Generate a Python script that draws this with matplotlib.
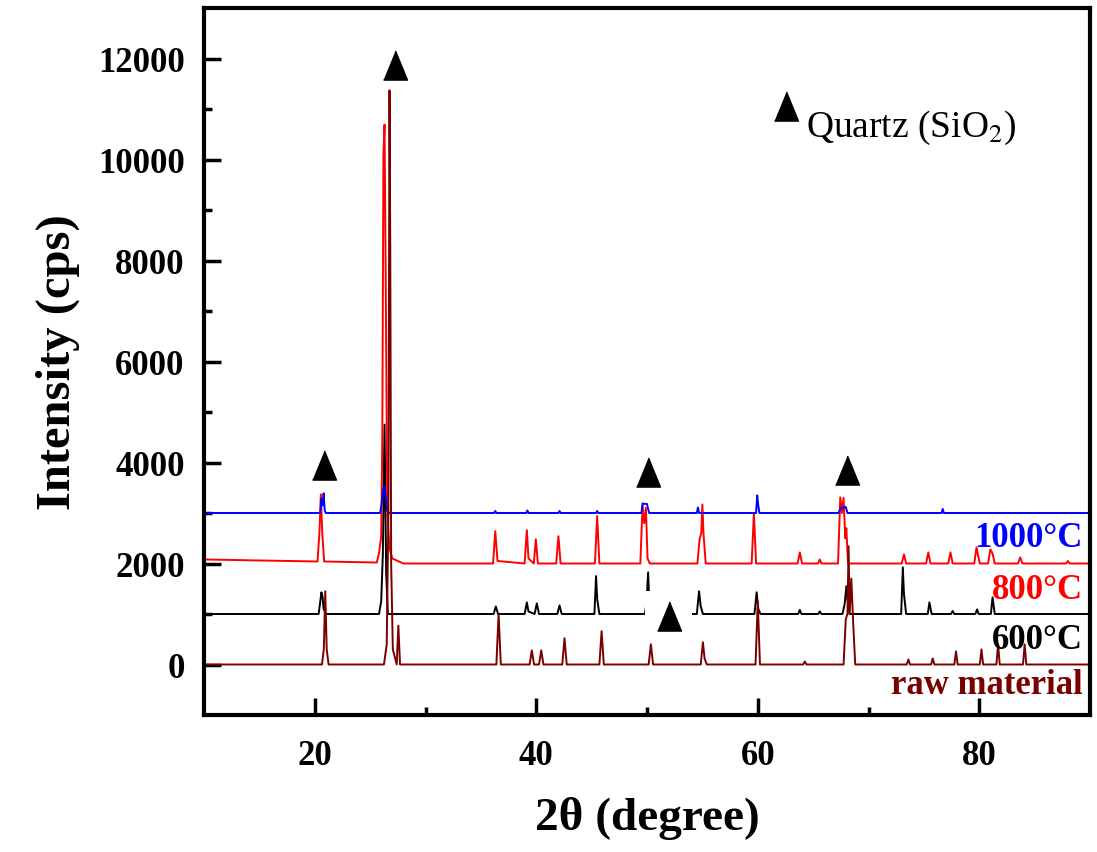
import matplotlib
matplotlib.use("Agg")
import matplotlib.pyplot as plt
from matplotlib.patches import Rectangle

plt.rcParams['font.family'] = ['Liberation Serif', 'DejaVu Serif']
plt.rcParams['mathtext.fontset'] = 'stix'

# ---- data: (2theta, intensity) vertices ----
raw_pts = [(10, 0), (20.65, 0), (20.82, 300), (20.95, 1450), (21.08, 300), (21.25, 0),
           (26.25, 0), (26.5, 400), (26.65, 3000), (26.75, 11370), (26.82, 8170), (26.9, 2000), (27.05, 300),
           (27.4, 0), (27.55, 770), (27.7, 0),
           (36.4, 0), (36.6, 1000), (36.8, 0),
           (39.4, 0), (39.6, 280), (39.8, 0), (40.25, 0), (40.45, 280), (40.65, 0),
           (42.35, 0), (42.55, 520), (42.75, 0),
           (45.7, 0), (45.9, 660), (46.1, 0),
           (50.15, 0), (50.35, 400), (50.55, 0),
           (54.85, 0), (55.05, 440), (55.2, 120), (55.4, 0),
           (59.8, 0), (60.0, 1250), (60.2, 0),
           (64.1, 0), (64.25, 60), (64.4, 0),
           (67.75, 0), (67.95, 900), (68.1, 1000), (68.2, 2340), (68.3, 1000), (68.45, 1700),
           (68.6, 900), (68.8, 0),
           (73.45, 0), (73.6, 100), (73.75, 0),
           (75.65, 0), (75.8, 120), (75.95, 0),
           (77.75, 0), (77.9, 260), (78.05, 0),
           (80.05, 0), (80.2, 300), (80.35, 0),
           (81.55, 0), (81.7, 400), (81.85, 0),
           (83.95, 0), (84.1, 400), (84.25, 0),
           (90, 0)]

c600_pts = [(10, 1000), (20.35, 1000), (20.5, 1250), (20.6, 1430), (20.7, 1350), (20.8, 1100), (21.0, 1000),
            (25.8, 1000), (26.0, 1250), (26.15, 2200), (26.3, 4750), (26.45, 1800), (26.6, 1000),
            (36.15, 1000), (36.35, 1150), (36.55, 1000),
            (38.95, 1000), (39.15, 1230), (39.3, 1050), (39.85, 1000), (40.05, 1210), (40.25, 1000),
            (41.9, 1000), (42.1, 1170), (42.3, 1000),
            (45.25, 1000), (45.4, 1750), (45.5, 1300), (45.7, 1000),
            (49.8, 1000), (49.95, 1200), (50.1, 1825), (50.25, 1000),
            (54.5, 1000), (54.7, 1450), (54.85, 1150), (55.05, 1000),
            (59.7, 1000), (59.9, 1430), (60.05, 1100), (60.25, 1000),
            (63.65, 1000), (63.8, 1080), (63.95, 1000), (65.45, 1000), (65.6, 1050), (65.75, 1000),
            (67.65, 1000), (67.85, 1200), (68.0, 1550), (68.1, 1300), (68.3, 1000),
            (72.95, 1000), (73.1, 1925), (73.2, 1400), (73.4, 1000),
            (75.35, 1000), (75.5, 1230), (75.7, 1000),
            (77.45, 1000), (77.6, 1060), (77.75, 1000),
            (79.65, 1000), (79.8, 1090), (79.95, 1000),
            (81.05, 1000), (81.2, 1330), (81.4, 1000),
            (90, 1000)]

c800_pts = [(10, 2080), (15, 2060), (20.25, 2040), (20.42, 2600), (20.55, 3370), (20.68, 2600), (20.85, 2040),
            (23, 2030), (25.6, 2020), (25.8, 2200), (26.0, 2540), (26.1, 4500), (26.2, 10080), (26.3, 10690),
            (26.4, 7900), (26.55, 3000), (26.75, 2300), (27.0, 2100), (28, 2000),
            (36.1, 2000), (36.3, 2640), (36.5, 2050),
            (38.95, 2000), (39.15, 2660), (39.3, 2100), (39.78, 2000), (39.96, 2480), (40.15, 2000),
            (41.8, 2000), (42.0, 2540), (42.2, 2000),
            (45.3, 2000), (45.5, 2940), (45.7, 2000),
            (49.4, 2000), (49.6, 3150), (49.75, 2800), (49.9, 3100), (50.05, 2100), (50.25, 2000),
            (54.55, 2000), (54.75, 2480), (54.9, 2600), (55.0, 3170), (55.1, 2600), (55.3, 2000),
            (59.45, 2000), (59.65, 3000), (59.85, 2000),
            (63.6, 2000), (63.8, 2220), (64.0, 2000), (65.45, 2000), (65.6, 2080), (65.75, 2000),
            (67.25, 2000), (67.45, 3310), (67.6, 3000), (67.75, 3300), (67.9, 2500), (68.0, 2700), (68.15, 2000),
            (73.0, 2000), (73.2, 2180), (73.4, 2000),
            (75.2, 2000), (75.4, 2220), (75.6, 2000),
            (77.2, 2000), (77.4, 2220), (77.6, 2000),
            (79.55, 2000), (79.75, 2320), (79.9, 2150), (80.05, 2000),
            (80.8, 2000), (81.0, 2280), (81.2, 2200), (81.4, 2000),
            (83.5, 2000), (83.7, 2120), (83.9, 2000),
            (87.85, 2000), (88.0, 2050), (88.15, 2000),
            (90, 2000)]

c1000_pts = [(10, 3000), (20.5, 3000), (20.6, 3280), (20.7, 3150), (20.8, 3390), (20.9, 3050), (21.0, 3000),
             (25.9, 3000), (26.05, 3200), (26.2, 3500), (26.3, 3530), (26.4, 3350), (26.55, 3050), (26.7, 3000),
             (36.2, 3000), (36.3, 3040), (36.4, 3000), (39.1, 3000), (39.2, 3050), (39.3, 3000),
             (42.0, 3000), (42.1, 3040), (42.2, 3000),
             (45.4, 3000), (45.5, 3040), (45.6, 3000),
             (49.5, 3000), (49.6, 3190), (49.8, 3180), (50.0, 3180), (50.1, 3080), (50.2, 3000),
             (54.5, 3000), (54.6, 3110), (54.7, 3000),
             (59.85, 3000), (59.95, 3350), (60.05, 3150), (60.15, 3000),
             (67.3, 3000), (67.45, 3080), (67.7, 3110), (67.95, 3120), (68.1, 3000),
             (76.6, 3000), (76.7, 3080), (76.8, 3000),
             (90, 3000)]

series_names = ['600°C', '800°C', '1000°C', 'raw material']
series_colors = ['#000000', '#FF0000', '#0000FF', '#7A0000']
label_y = [500, 1490, 2520, -400]

# quartz marker positions (2theta, intensity)
quartz_x = [20.86, 27.23, 50.13, 52.02, 68.06]
quartz_y = [3958, 11875, 3810, 952, 3850]

xticks = [20, 40, 60, 80]
yticks = [0, 2000, 4000, 6000, 8000, 10000, 12000]

# ---- figure ----
fig = plt.figure(figsize=(10.97, 8.53), dpi=100)
ax = fig.add_axes([204 / 1097, 1 - 716 / 853, 886 / 1097, 707 / 853])

tri = [(-0.41, -0.5), (0.41, -0.5), (0.0, 0.5)]

for pts, col in zip([c600_pts, c800_pts, c1000_pts, raw_pts], series_colors):
    xs = [p[0] for p in pts]
    ys = [p[1] for p in pts]
    ax.plot(xs, ys, color=col, lw=1.4, zorder=2)

# white box behind the lower triangle (it hides part of the 600 C trace)
ax.add_patch(Rectangle((49.85, 430), 4.2, 1030, facecolor='white', edgecolor='none', zorder=3))
ax.plot(quartz_x, quartz_y, linestyle='none', marker=tri, markersize=21,
        color='black', zorder=4)

for name, col, yv in zip(series_names, series_colors, label_y):
    ax.text(0.992, yv, name, transform=ax.get_yaxis_transform(), ha='right', va='center',
            fontsize=25, fontweight='bold', color=col, zorder=5)

# legend-like note
ax.plot([0.657], [0.862], transform=ax.transAxes, linestyle='none', marker=tri,
        markersize=21, color='black', clip_on=False)
ax.text(0.68, 0.832, 'Quartz (SiO$_2$)', transform=ax.transAxes, ha='left', va='center',
        fontsize=27, color='black')

ax.set_xlim(10, 90)
ax.set_ylim(-1000, 13000)
ax.set_xticks(xticks)
ax.set_xticks([30, 50, 70], minor=True)
ax.set_yticks(yticks)
ax.set_yticks([1000, 3000, 5000, 7000, 9000, 11000], minor=True)
ax.tick_params(axis='both', which='major', direction='in', length=12, width=2.5,
               labelsize=25)
ax.tick_params(axis='both', which='minor', direction='in', length=6, width=2.5)
ax.tick_params(axis='x', which='major', pad=17)
ax.tick_params(axis='y', which='major', pad=14)
for lab in ax.get_xticklabels() + ax.get_yticklabels():
    lab.set_fontweight('bold')
for sp in ax.spines.values():
    sp.set_linewidth(3)

ax.set_xlabel('2θ (degree)', fontsize=34, fontweight='bold')
ax.set_ylabel('Intensity (cps)', fontsize=35, fontweight='bold')
ax.xaxis.set_label_coords(0.5, -0.115)
ax.yaxis.set_label_coords(-0.14, 0.5)

fig.savefig('out.png', dpi=100)
